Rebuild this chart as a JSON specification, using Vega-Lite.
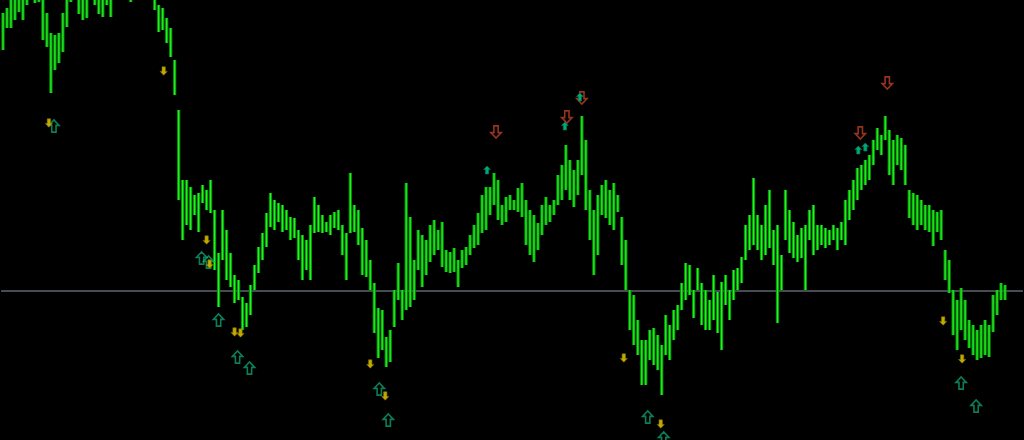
{
"$schema":"https://vega.github.io/schema/vega-lite/v6.json",
"autosize":{"type":"fit","contains":"padding"},
"width":1024,"height":440,"padding":0,
"background":"#000000",
"config":{"view":{"stroke":null}},
"datasets":{
"level":[{"price":149}],
"bars":[
{"t":0,"hi":427,"lo":390},{"t":1,"hi":432,"lo":412},{"t":2,"hi":445,"lo":412},{"t":3,"hi":450,"lo":420},{"t":4,"hi":455,"lo":428},{"t":5,"hi":450,"lo":420},{"t":6,"hi":460,"lo":435},{"t":7,"hi":465,"lo":440},{"t":8,"hi":460,"lo":437},{"t":9,"hi":455,"lo":438},
{"t":10,"hi":450,"lo":400},{"t":11,"hi":427,"lo":393},{"t":12,"hi":407,"lo":347},{"t":13,"hi":405,"lo":370},{"t":14,"hi":407,"lo":377},{"t":15,"hi":427,"lo":388},{"t":16,"hi":445,"lo":413},{"t":17,"hi":460,"lo":438},{"t":18,"hi":465,"lo":445},{"t":19,"hi":450,"lo":426},
{"t":20,"hi":445,"lo":420},{"t":21,"hi":448,"lo":422},{"t":22,"hi":460,"lo":442},{"t":23,"hi":455,"lo":435},{"t":24,"hi":450,"lo":426},{"t":25,"hi":452,"lo":423},{"t":26,"hi":455,"lo":435},{"t":27,"hi":450,"lo":423},{"t":28,"hi":460,"lo":440},{"t":29,"hi":470,"lo":448},
{"t":30,"hi":475,"lo":450},{"t":31,"hi":470,"lo":450},{"t":32,"hi":460,"lo":438},{"t":33,"hi":470,"lo":448},{"t":34,"hi":475,"lo":452},{"t":35,"hi":470,"lo":450},{"t":36,"hi":465,"lo":445},{"t":37,"hi":455,"lo":442},{"t":38,"hi":445,"lo":430},{"t":39,"hi":435,"lo":408},
{"t":40,"hi":432,"lo":410},{"t":41,"hi":422,"lo":397},{"t":42,"hi":412,"lo":383},{"t":43,"hi":380,"lo":345},{"t":44,"hi":330,"lo":240},{"t":45,"hi":260,"lo":200},{"t":46,"hi":260,"lo":215},{"t":47,"hi":253,"lo":210},{"t":48,"hi":245,"lo":225},{"t":49,"hi":247,"lo":208},
{"t":50,"hi":255,"lo":237},{"t":51,"hi":250,"lo":230},{"t":52,"hi":260,"lo":227},{"t":53,"hi":230,"lo":170},{"t":54,"hi":187,"lo":133},{"t":55,"hi":230,"lo":180},{"t":56,"hi":210,"lo":160},{"t":57,"hi":187,"lo":153},{"t":58,"hi":165,"lo":137},{"t":59,"hi":160,"lo":140},
{"t":60,"hi":143,"lo":110},{"t":61,"hi":137,"lo":113},{"t":62,"hi":155,"lo":125},{"t":63,"hi":175,"lo":150},{"t":64,"hi":193,"lo":167},{"t":65,"hi":207,"lo":180},{"t":66,"hi":227,"lo":193},{"t":67,"hi":247,"lo":213},{"t":68,"hi":240,"lo":210},{"t":69,"hi":237,"lo":218},
{"t":70,"hi":235,"lo":208},{"t":71,"hi":230,"lo":210},{"t":72,"hi":223,"lo":200},{"t":73,"hi":222,"lo":202},{"t":74,"hi":210,"lo":180},{"t":75,"hi":205,"lo":160},{"t":76,"hi":200,"lo":170},{"t":77,"hi":215,"lo":160},{"t":78,"hi":243,"lo":207},{"t":79,"hi":235,"lo":208},
{"t":80,"hi":225,"lo":207},{"t":81,"hi":218,"lo":208},{"t":82,"hi":225,"lo":205},{"t":83,"hi":228,"lo":212},{"t":84,"hi":230,"lo":210},{"t":85,"hi":215,"lo":185},{"t":86,"hi":207,"lo":160},{"t":87,"hi":267,"lo":207},{"t":88,"hi":235,"lo":208},{"t":89,"hi":230,"lo":195},
{"t":90,"hi":212,"lo":165},{"t":91,"hi":200,"lo":163},{"t":92,"hi":180,"lo":150},{"t":93,"hi":157,"lo":107},{"t":94,"hi":132,"lo":82},{"t":95,"hi":130,"lo":90},{"t":96,"hi":103,"lo":73},{"t":97,"hi":110,"lo":78},{"t":98,"hi":150,"lo":113},{"t":99,"hi":177,"lo":140},
{"t":100,"hi":150,"lo":120},{"t":101,"hi":257,"lo":130},{"t":102,"hi":223,"lo":133},{"t":103,"hi":180,"lo":140},{"t":104,"hi":210,"lo":170},{"t":105,"hi":205,"lo":153},{"t":106,"hi":200,"lo":165},{"t":107,"hi":215,"lo":178},{"t":108,"hi":220,"lo":185},{"t":109,"hi":210,"lo":190},
{"t":110,"hi":218,"lo":173},{"t":111,"hi":190,"lo":168},{"t":112,"hi":188,"lo":167},{"t":113,"hi":192,"lo":168},{"t":114,"hi":180,"lo":153},{"t":115,"hi":190,"lo":172},{"t":116,"hi":193,"lo":175},{"t":117,"hi":205,"lo":185},{"t":118,"hi":215,"lo":192},{"t":119,"hi":227,"lo":195},
{"t":120,"hi":245,"lo":207},{"t":121,"hi":253,"lo":210},{"t":122,"hi":253,"lo":225},{"t":123,"hi":267,"lo":235},{"t":124,"hi":260,"lo":220},{"t":125,"hi":235,"lo":215},{"t":126,"hi":243,"lo":218},{"t":127,"hi":245,"lo":230},{"t":128,"hi":240,"lo":230},{"t":129,"hi":252,"lo":228},
{"t":130,"hi":257,"lo":223},{"t":131,"hi":240,"lo":195},{"t":132,"hi":230,"lo":185},{"t":133,"hi":225,"lo":178},{"t":134,"hi":217,"lo":190},{"t":135,"hi":235,"lo":205},{"t":136,"hi":243,"lo":215},{"t":137,"hi":235,"lo":218},{"t":138,"hi":240,"lo":225},{"t":139,"hi":265,"lo":235},
{"t":140,"hi":275,"lo":240},{"t":141,"hi":295,"lo":250},{"t":142,"hi":280,"lo":240},{"t":143,"hi":270,"lo":233},{"t":144,"hi":280,"lo":245},{"t":145,"hi":324,"lo":265},{"t":146,"hi":300,"lo":230},{"t":147,"hi":250,"lo":200},{"t":148,"hi":230,"lo":165},{"t":149,"hi":245,"lo":185},
{"t":150,"hi":255,"lo":225},{"t":151,"hi":260,"lo":222},{"t":152,"hi":250,"lo":215},{"t":153,"hi":257,"lo":210},{"t":154,"hi":245,"lo":228},{"t":155,"hi":223,"lo":175},{"t":156,"hi":200,"lo":150},{"t":157,"hi":150,"lo":110},{"t":158,"hi":145,"lo":95},{"t":159,"hi":120,"lo":85},
{"t":160,"hi":100,"lo":55},{"t":161,"hi":100,"lo":55},{"t":162,"hi":110,"lo":80},{"t":163,"hi":112,"lo":75},{"t":164,"hi":105,"lo":70},{"t":165,"hi":95,"lo":45},{"t":166,"hi":125,"lo":85},{"t":167,"hi":115,"lo":80},{"t":168,"hi":130,"lo":100},{"t":169,"hi":135,"lo":110},
{"t":170,"hi":157,"lo":130},{"t":171,"hi":177,"lo":140},{"t":172,"hi":175,"lo":145},{"t":173,"hi":150,"lo":122},{"t":174,"hi":172,"lo":150},{"t":175,"hi":157,"lo":115},{"t":176,"hi":150,"lo":110},{"t":177,"hi":140,"lo":110},{"t":178,"hi":165,"lo":120},{"t":179,"hi":148,"lo":107},
{"t":180,"hi":158,"lo":90},{"t":181,"hi":165,"lo":135},{"t":182,"hi":150,"lo":120},{"t":183,"hi":170,"lo":140},{"t":184,"hi":172,"lo":150},{"t":185,"hi":183,"lo":157},{"t":186,"hi":215,"lo":180},{"t":187,"hi":225,"lo":190},{"t":188,"hi":262,"lo":195},{"t":189,"hi":225,"lo":190},
{"t":190,"hi":215,"lo":180},{"t":191,"hi":235,"lo":185},{"t":192,"hi":250,"lo":192},{"t":193,"hi":210,"lo":175},{"t":194,"hi":215,"lo":117},{"t":195,"hi":185,"lo":150},{"t":196,"hi":250,"lo":200},{"t":197,"hi":230,"lo":187},{"t":198,"hi":218,"lo":182},{"t":199,"hi":205,"lo":178},
{"t":200,"hi":212,"lo":182},{"t":201,"hi":215,"lo":150},{"t":202,"hi":230,"lo":200},{"t":203,"hi":235,"lo":185},{"t":204,"hi":215,"lo":190},{"t":205,"hi":215,"lo":195},{"t":206,"hi":212,"lo":192},{"t":207,"hi":210,"lo":195},{"t":208,"hi":215,"lo":200},{"t":209,"hi":212,"lo":190},
{"t":210,"hi":218,"lo":200},{"t":211,"hi":240,"lo":195},{"t":212,"hi":250,"lo":220},{"t":213,"hi":260,"lo":230},{"t":214,"hi":272,"lo":240},{"t":215,"hi":275,"lo":250},{"t":216,"hi":280,"lo":255},{"t":217,"hi":285,"lo":260},{"t":218,"hi":300,"lo":275},{"t":219,"hi":312,"lo":290},
{"t":220,"hi":305,"lo":285},{"t":221,"hi":324,"lo":300},{"t":222,"hi":310,"lo":265},{"t":223,"hi":300,"lo":255},{"t":224,"hi":305,"lo":275},{"t":225,"hi":302,"lo":270},{"t":226,"hi":295,"lo":255},{"t":227,"hi":250,"lo":222},{"t":228,"hi":247,"lo":215},{"t":229,"hi":245,"lo":210},
{"t":230,"hi":240,"lo":215},{"t":231,"hi":235,"lo":210},{"t":232,"hi":235,"lo":208},{"t":233,"hi":230,"lo":194},{"t":234,"hi":228,"lo":208},{"t":235,"hi":230,"lo":200},{"t":236,"hi":190,"lo":160},{"t":237,"hi":180,"lo":147},{"t":238,"hi":150,"lo":105},{"t":239,"hi":140,"lo":90},
{"t":240,"hi":152,"lo":110},{"t":241,"hi":140,"lo":100},{"t":242,"hi":120,"lo":92},{"t":243,"hi":115,"lo":85},{"t":244,"hi":110,"lo":80},{"t":245,"hi":115,"lo":82},{"t":246,"hi":120,"lo":85},{"t":247,"hi":115,"lo":83},{"t":248,"hi":145,"lo":108},{"t":249,"hi":150,"lo":125},
{"t":250,"hi":157,"lo":140},{"t":251,"hi":155,"lo":140}
],
"sig":[
{"t":12.75,"price":314,"kind":"buy"},{"t":49.75,"price":182,"kind":"buy"},{"t":51.5,"price":178,"kind":"buy"},{"t":54,"price":120,"kind":"buy"},{"t":58.75,"price":83,"kind":"buy"},{"t":61.75,"price":72,"kind":"buy"},{"t":94.25,"price":51,"kind":"buy"},{"t":96.5,"price":20,"kind":"buy"},{"t":161.5,"price":23,"kind":"buy"},{"t":165.5,"price":2,"kind":"buy"},{"t":240,"price":57,"kind":"buy"},{"t":243.75,"price":34,"kind":"buy"},
{"t":123.5,"price":308,"kind":"sell"},{"t":141.25,"price":323,"kind":"sell"},{"t":145,"price":342,"kind":"sell"},{"t":221.5,"price":357,"kind":"sell"},{"t":214.75,"price":307,"kind":"sell"},
{"t":11.5,"price":317,"kind":"warn"},{"t":40.25,"price":369,"kind":"warn"},{"t":51,"price":200,"kind":"warn"},{"t":51.75,"price":176,"kind":"warn"},{"t":58,"price":108,"kind":"warn"},{"t":59.5,"price":107,"kind":"warn"},{"t":92,"price":76,"kind":"warn"},{"t":95.75,"price":44,"kind":"warn"},{"t":155.5,"price":82,"kind":"warn"},{"t":164.75,"price":16,"kind":"warn"},{"t":235.5,"price":119,"kind":"warn"},{"t":240.25,"price":81,"kind":"warn"},
{"t":121.25,"price":270,"kind":"pre"},{"t":140.75,"price":314,"kind":"pre"},{"t":144.5,"price":343,"kind":"pre"},{"t":214.25,"price":290,"kind":"pre"},{"t":216,"price":293,"kind":"pre"}
]
},
"layer":[
{"data":{"name":"level"},"mark":{"type":"rule","color":"#8e96a6","strokeWidth":1},
 "encoding":{"y":{"field":"price","type":"quantitative","scale":{"domain":[0,440],"nice":false,"zero":false},"axis":null}}},
{"data":{"name":"bars"},"mark":{"type":"rule","color":"#009c00","strokeWidth":3.2,"clip":true},
 "encoding":{
  "x":{"field":"t","type":"quantitative","scale":{"domain":[-0.5,255.5],"nice":false,"zero":false},"axis":null},
  "y":{"field":"lo","type":"quantitative","scale":{"domain":[0,440],"nice":false,"zero":false},"axis":null},
  "y2":{"field":"hi"}}},
{"data":{"name":"bars"},"mark":{"type":"rule","color":"#28f028","strokeWidth":1.2,"clip":true},
 "encoding":{
  "x":{"field":"t","type":"quantitative"},
  "y":{"field":"lo","type":"quantitative"},
  "y2":{"field":"hi"}}},
{"data":{"name":"sig"},"transform":[{"filter":"datum.kind==='buy'"}],
 "mark":{"type":"point","shape":"M-0.35,1L0.35,1L0.35,-0.1L0.85,-0.1L0,-1L-0.85,-0.1L-0.35,-0.1Z","filled":false,"stroke":"#12b47a","strokeWidth":1.6,"size":150,"clip":true},
 "encoding":{"x":{"field":"t","type":"quantitative"},"y":{"field":"price","type":"quantitative"}}},
{"data":{"name":"sig"},"transform":[{"filter":"datum.kind==='sell'"}],
 "mark":{"type":"point","shape":"M-0.35,-1L0.35,-1L0.35,0.1L0.85,0.1L0,1L-0.85,0.1L-0.35,0.1Z","filled":false,"stroke":"#d84a2a","strokeWidth":1.6,"size":150,"clip":true},
 "encoding":{"x":{"field":"t","type":"quantitative"},"y":{"field":"price","type":"quantitative"}}},
{"data":{"name":"sig"},"transform":[{"filter":"datum.kind==='warn'"}],
 "mark":{"type":"point","shape":"M-0.4,-1L0.4,-1L0.4,0.1L0.85,0.1L0,1L-0.85,0.1L-0.4,0.1Z","filled":true,"fill":"#c0ac00","stroke":"#8a7000","strokeWidth":0.6,"opacity":1,"size":70,"clip":true},
 "encoding":{"x":{"field":"t","type":"quantitative"},"y":{"field":"price","type":"quantitative"}}},
{"data":{"name":"sig"},"transform":[{"filter":"datum.kind==='pre'"}],
 "mark":{"type":"point","shape":"M-0.4,1L0.4,1L0.4,-0.1L0.85,-0.1L0,-1L-0.85,-0.1L-0.4,-0.1Z","filled":true,"fill":"#00a878","stroke":"#007a55","strokeWidth":0.6,"opacity":1,"size":64,"clip":true},
 "encoding":{"x":{"field":"t","type":"quantitative"},"y":{"field":"price","type":"quantitative"}}}
]
}
